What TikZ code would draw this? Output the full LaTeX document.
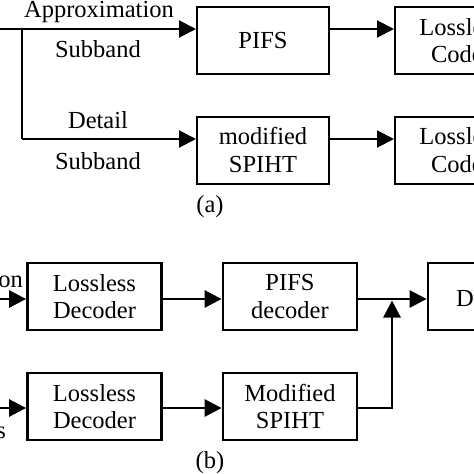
\documentclass[tikz,border=0pt]{standalone}
\usepackage{fontspec}
\setmainfont{Liberation Serif}
\usetikzlibrary{arrows.meta}
\begin{document}
\begin{tikzpicture}[x=1pt,y=-1pt,
  every node/.style={font=\fontsize{24.5}{27.5}\selectfont, inner sep=0pt},
  boxa/.style={draw, line width=2pt, minimum width=132pt, minimum height=67pt, align=center},
  boxb/.style={draw, line width=2.8pt, minimum width=134pt, minimum height=67pt, align=center},
  lna/.style={line width=2pt},
  lnb/.style={line width=2.8pt},
  arr/.style={-{Triangle[length=17pt,width=17pt]}}]
\useasboundingbox (0,0) rectangle (474,474);
\clip (0,0) rectangle (474,474);
% (a)
\node[boxa] (pifs) at (263,40.5) {PIFS};
\node[boxa] (lc1) at (461,40.5) {Lossless\\Coder};
\node[boxa] (spiht) at (263,150) {modified\\SPIHT};
\node[boxa] (lc2) at (461,150) {Lossless\\Coder};
\coordinate (in) at (0,29);
\coordinate (br) at (22,29);
\coordinate (brd) at (22,139);
\draw[lna,arr] (in) -- (in -| pifs.west);
\draw[lna] (br) -- (brd);
\draw[lna,arr] (brd) -- (brd -| spiht.west);
\draw[lna,arr] (pifs.east |- in) -- (lc1.west |- in);
\draw[lna,arr] (spiht.east |- brd) -- (lc2.west |- brd);
\node[anchor=base] (t1) at (99,17) {Approximation};
\node[anchor=base] (t2) at (98,57) {Subband};
\node[anchor=base] (t3) at (98,128) {Detail};
\node[anchor=base] (t4) at (98,169) {Subband};
\node (capa) at (210,207) {(a)};
% (b)
\node[boxb] (ld1) at (94.5,296.5) {Lossless\\Decoder};
\node[boxb] (pd) at (290,296.5) {PIFS\\decoder};
\node[boxb] (dd) at (495,296.5) {DWT$^{-1}$};
\node[boxb] (ld2) at (94.5,406.5) {Lossless\\Decoder};
\node[boxb] (ms) at (290,406.5) {Modified\\SPIHT};
\coordinate (b1) at (0,299);
\coordinate (b2) at (0,408);
\coordinate (j) at (392,408);
\coordinate (jt) at (392,300.5);
\draw[lnb,arr] (b1) -- (b1 -| ld1.west);
\draw[lnb,arr] (b2) -- (b2 -| ld2.west);
\draw[lnb,arr] (ld1.east |- b1) -- (pd.west |- b1);
\draw[lnb,arr] (ld2.east |- b2) -- (ms.west |- b2);
\draw[lnb,arr] (pd.east |- b1) -- (dd.west |- b1);
\draw[lnb,arr] (ms.east |- j) -- (j) -- (jt);
\node[anchor=base east] (t5) at (23,287) {Approximation};
\node[anchor=base east] (t6) at (6,438) {Subbands};
\node (capb) at (210,463) {(b)};
\end{tikzpicture}
\end{document}
